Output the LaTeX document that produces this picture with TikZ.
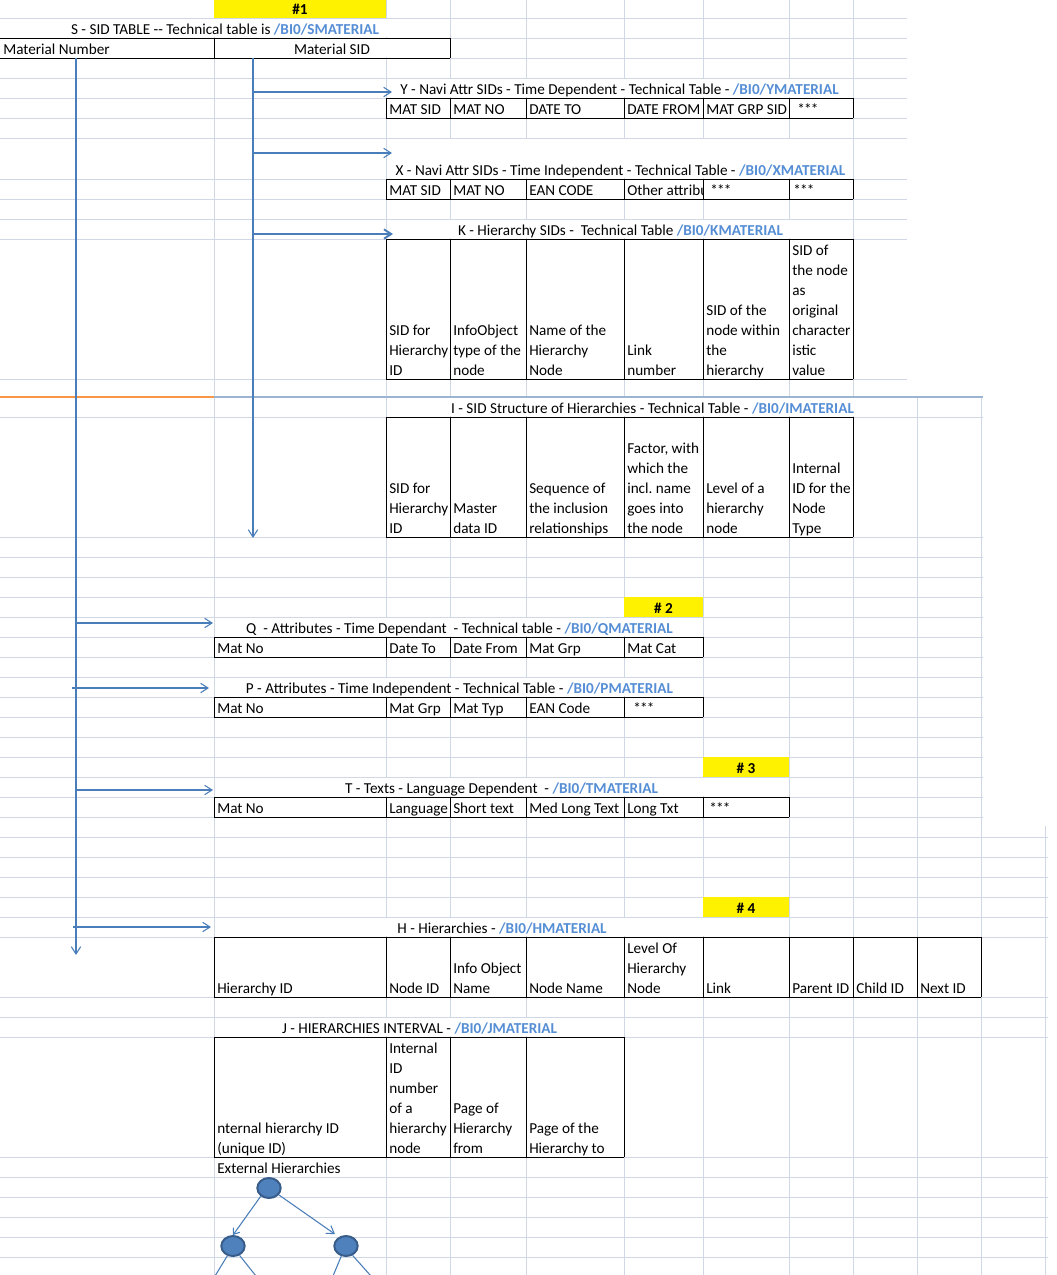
\documentclass[tikz,border=0pt]{standalone}
\usepackage{fontspec}
\setmainfont{Carlito}
\usetikzlibrary{arrows.meta,shapes.geometric}
\frenchspacing
\definecolor{gridc}{HTML}{D0D7E5}
\definecolor{tblue}{HTML}{558ED5}
\definecolor{arrc}{HTML}{4A7EBB}
\definecolor{paneblue}{HTML}{9AB4D2}
\definecolor{paneorange}{HTML}{F79646}
\definecolor{nodefill}{HTML}{4F81BD}
\definecolor{nodeedge}{HTML}{385D8A}
\newcounter{nc}
\newcommand\tx[3]{\stepcounter{nc}\node[txt] (t\arabic{nc}) at (#1,#2+1) {#3};}
\newcommand\ttl[3]{\stepcounter{nc}\node[ttl] (t\arabic{nc}) at (#1,#2+1) {#3};}
\newcommand\tb[1]{\textcolor{tblue}{\textbf{#1}}}
\newcommand\stars{*\kern-0.6pt*\kern-0.6pt*}
\newcommand\tbl[5]{\draw[cellb] (#3,#1) -- (#4,#1) (#3,#2) -- (#4,#2);
  \foreach \xx in {#5} {\draw[cellb] (\xx,#1) -- (\xx,#2);}}
\newcommand\mask[4]{\fill[white] (#1+0.7,#2+0.7) rectangle (#3-0.7,#4-0.7);}
\begin{document}
\begin{tikzpicture}[x=0.75pt,y=-0.75pt,
  gridl/.style={draw=gridc,line width=0.75pt},
  cellb/.style={draw=black,line width=0.75pt},
  txt/.style={anchor=base west,inner sep=0pt,font=\fontsize{11.4pt}{13pt}\selectfont},
  ttl/.style={anchor=base,inner sep=0pt,font=\fontsize{11.4pt}{13pt}\selectfont},
  arr/.style={draw=arrc,line width=0.8pt,-{Straight Barb[length=5.5pt,width=7pt]}},
  treenode/.style={ellipse,fill=nodefill,draw=nodeedge,line width=1.5pt,minimum width=17.5pt,minimum height=15pt,inner sep=0pt}]
\clip (0,0) rectangle (1057,1275);
\fill[white] (0,0) rectangle (1057,1275);
% ---- grid, top pane
\foreach \yy in {18,38,58,78,98,118,138,179,199,219,239,379} \draw[gridl] (0,\yy) -- (907,\yy);
\foreach \xx in {214,386,450,526,624,703,789,853} \draw[gridl] (\xx,0) -- (\xx,397);
% ---- grid, bottom pane
\foreach \yy in {417,537,557,...,817} \draw[gridl] (0,\yy) -- (983,\yy);
\foreach \yy in {837,857,...,937} \draw[gridl] (0,\yy) -- (1048,\yy);
\foreach \yy in {997,1017,1037,1157,1177,1197,1217,1237,1257} \draw[gridl] (0,\yy) -- (1048,\yy);
\foreach \xx in {214,386,450,526,624,703,789,853,917,981} \draw[gridl] (\xx,397) -- (\xx,1275);
\draw[gridl] (1045,826) -- (1045,1275);
% ---- merged title rows hide grid lines
\mask{0}{18}{450}{38}
\mask{214}{38}{450}{58}
\mask{386}{78}{853}{98}
\mask{386}{138}{853}{179}
\mask{386}{219}{853}{239}
\mask{386}{397}{917}{417}
\mask{214}{617}{703}{637}
\mask{214}{677}{703}{697}
\mask{214}{777}{789}{797}
\mask{214}{917}{789}{937}
\mask{214}{1017}{624}{1037}
% ---- pane split
\draw[paneorange,line width=1.5pt] (0,397) -- (214,397);
\draw[paneblue,line width=1.5pt] (214,397) -- (983,397);
% ---- yellow markers
\fill[yellow] (214,0) rectangle (386,18);
\fill[yellow] (624,597) rectangle (703,617);
\fill[yellow] (703,757) rectangle (789,777);
\fill[yellow] (703,897) rectangle (789,917);
\ttl{300}{13.5}{\textbf{\#1}}
\ttl{663.5}{612.5}{\textbf{\# 2}}
\ttl{746}{772.5}{\textbf{\# 3}}
\ttl{746}{912.5}{\textbf{\# 4}}
% ---- S table
\ttl{225}{33.5}{S - SID TABLE -{}- Technical table is \tb{/BI0/SMATERIAL}}
\draw[cellb] (0,38) -- (450,38) (0,58) -- (450,58) (214,38) -- (214,58) (450,38) -- (450,58);
\tx{3}{53.5}{Material Number}
\ttl{332}{53.5}{Material SID}
% ---- Y table
\ttl{619.5}{93.5}{Y - Navi Attr SIDs - Time Dependent - Technical Table - \tb{/BI0/YMATERIAL}}
\tbl{98}{118}{386}{853}{386,450,526,624,703,789,853}
\tx{389}{113.5}{MAT SID}\tx{453}{113.5}{MAT NO}\tx{529}{113.5}{DATE TO}
\tx{627}{113.5}{DATE FROM}\tx{706}{113.5}{MAT GRP SID}\tx{797}{113.5}{\stars}
% ---- X table
\ttl{620.5}{174.5}{X - Navi Attr SIDs - Time Independent - Technical Table - \tb{/BI0/XMATERIAL}}
\tbl{179}{199}{386}{853}{386,450,526,624,703,789,853}
\tx{389}{194.5}{MAT SID}\tx{453}{194.5}{MAT NO}\tx{529}{194.5}{EAN CODE}
\begin{scope}
\clip (624,179) rectangle (703,199);
\tx{627}{194.5}{Other attribu}
\end{scope}
\tx{710}{194.5}{\stars}\tx{793}{194.5}{\stars}
% ---- K table
\ttl{620.5}{234.5}{K - Hierarchy SIDs -~ Technical Table \tb{/BI0/KMATERIAL}}
\tbl{239}{379}{386}{853}{386,450,526,624,703,789,853}
\tx{389}{334.5}{SID for}\tx{389}{354.5}{Hierarchy}\tx{389}{374.5}{ID}
\tx{453}{334.5}{InfoObject}\tx{453}{354.5}{type of the}\tx{453}{374.5}{node}
\tx{529}{334.5}{Name of the}\tx{529}{354.5}{Hierarchy}\tx{529}{374.5}{Node}
\tx{627}{354.5}{Link}\tx{627}{374.5}{number}
\tx{706}{314.5}{SID of the}\tx{706}{334.5}{node within}\tx{706}{354.5}{the}\tx{706}{374.5}{hierarchy}
\tx{792}{254.5}{SID of}\tx{792}{274.5}{the node}\tx{792}{294.5}{as}\tx{792}{314.5}{original}
\tx{792}{334.5}{character}\tx{792}{354.5}{istic}\tx{792}{374.5}{value}
% ---- I table
\ttl{652.5}{412.5}{I - SID Structure of Hierarchies - Technical Table - \tb{/BI0/IMATERIAL}}
\tbl{417}{537}{386}{853}{386,450,526,624,703,789,853}
\tx{389}{492.5}{SID for}\tx{389}{512.5}{Hierarchy}\tx{389}{532.5}{ID}
\tx{453}{512.5}{Master}\tx{453}{532.5}{data ID}
\tx{529}{492.5}{Sequence of}\tx{529}{512.5}{the inclusion}\tx{529}{532.5}{relationships}
\tx{627}{452.5}{Factor, with}\tx{627}{472.5}{which the}\tx{627}{492.5}{incl. name}\tx{627}{512.5}{goes into}\tx{627}{532.5}{the node}
\tx{706}{492.5}{Level of a}\tx{706}{512.5}{hierarchy}\tx{706}{532.5}{node}
\tx{792}{472.5}{Internal}\tx{792}{492.5}{ID for the}\tx{792}{512.5}{Node}\tx{792}{532.5}{Type}
% ---- Q table
\ttl{459.5}{632.5}{Q~ - Attributes - Time Dependant~ - Technical table - \tb{/BI0/QMATERIAL}}
\tbl{637}{657}{214}{703}{214,386,450,526,624,703}
\tx{217}{652.5}{Mat No}\tx{389}{652.5}{Date To}\tx{453}{652.5}{Date From}\tx{529}{652.5}{Mat Grp}\tx{627}{652.5}{Mat Cat}
% ---- P table
\ttl{459.5}{692.5}{P - Attributes - Time Independent - Technical Table - \tb{/BI0/PMATERIAL}}
\tbl{697}{717}{214}{703}{214,386,450,526,624,703}
\tx{217}{712.5}{Mat No}\tx{389}{712.5}{Mat Grp}\tx{453}{712.5}{Mat Typ}\tx{529}{712.5}{EAN Code}\tx{633}{712.5}{\stars}
% ---- T table
\ttl{501.5}{792.5}{T - Texts - Language Dependent~ - \tb{/BI0/TMATERIAL}}
\tbl{797}{817}{214}{789}{214,386,450,526,624,703,789}
\tx{217}{812.5}{Mat No}\tx{389}{812.5}{Language}\tx{453}{812.5}{Short text}\tx{529}{812.5}{Med Long Text}\tx{627}{812.5}{Long Txt}\tx{709}{812.5}{\stars}
% ---- H table
\ttl{502}{932.5}{H - Hierarchies - \tb{/BI0/HMATERIAL}}
\tbl{937}{997}{214}{981}{214,386,450,526,624,703,789,853,917,981}
\tx{217}{992.5}{Hierarchy ID}\tx{389}{992.5}{Node ID}
\tx{453}{972.5}{Info Object}\tx{453}{992.5}{Name}
\tx{529}{992.5}{Node Name}
\tx{627}{952.5}{Level Of}\tx{627}{972.5}{Hierarchy}\tx{627}{992.5}{Node}
\tx{706}{992.5}{Link}\tx{792}{992.5}{Parent ID}\tx{856}{992.5}{Child ID}\tx{920}{992.5}{Next ID}
% ---- J table
\ttl{419.5}{1032.5}{J - HIERARCHIES INTERVAL - \tb{/BI0/JMATERIAL}}
\tbl{1037}{1157}{214}{624}{214,386,450,526,624}
\tx{217}{1132.5}{nternal hierarchy ID}\tx{217}{1152.5}{(unique ID)}
\tx{389}{1052.5}{Internal}\tx{389}{1072.5}{ID}\tx{389}{1092.5}{number}\tx{389}{1112.5}{of a}\tx{389}{1132.5}{hierarchy}\tx{389}{1152.5}{node}
\tx{453}{1112.5}{Page of}\tx{453}{1132.5}{Hierarchy}\tx{453}{1152.5}{from}
\tx{529}{1132.5}{Page of the}\tx{529}{1152.5}{Hierarchy to}
\tx{217}{1172.5}{External Hierarchies}
% ---- connector coordinates
\coordinate (mn) at (76,58);
\coordinate (ms) at (253,58);
\coordinate (mnEnd) at (76,955);
\coordinate (msEnd) at (253,538);
\coordinate (ys) at (253,92);   \coordinate (ye) at (392,92);
\coordinate (xs) at (253,153);  \coordinate (xe) at (392,153);
\coordinate (ks) at (253,234);  \coordinate (ke) at (393,234);
\coordinate (qs) at (76,623);   \coordinate (qe) at (213,623);
\coordinate (ps) at (72,688);   \coordinate (pe) at (209,688);
\coordinate (ts) at (76,790);   \coordinate (te) at (213,790);
\coordinate (hs) at (73,927);   \coordinate (he) at (211,927);
\draw[arr] (mn) -- (mnEnd);
\draw[arr] (ms) -- (msEnd);
\draw[arr] (ys) -- (ye);
\draw[arr] (xs) -- (xe);
\draw[arr,line width=1.4pt] (ks) -- (ke);
\draw[arr] (qs) -- (qe);
\draw[arr] (ps) -- (pe);
\draw[arr] (ts) -- (te);
\draw[arr] (hs) -- (he);
% ---- tree
\node[treenode] (r) at (269,1188) {};
\node[treenode] (a) at (233,1246) {};
\node[treenode] (b) at (346,1246) {};
\coordinate (a1) at (215,1276); \coordinate (a2) at (256,1276);
\coordinate (b1) at (333,1276); \coordinate (b2) at (371,1276);
\draw[arr,-{Straight Barb[length=4pt,width=6pt]}] (r.225) -- (a.north);
\draw[arr] (r.-35) -- ([xshift=-1.5pt,yshift=3pt]b.north west);
\draw[draw=arrc,line width=0.8pt] (a.240) -- (a1);
\draw[draw=arrc,line width=0.8pt] (a.-55) -- (a2);
\draw[draw=arrc,line width=0.8pt] (b.245) -- (b1);
\draw[draw=arrc,line width=0.8pt] (b.-55) -- (b2);
\end{tikzpicture}
\end{document}
